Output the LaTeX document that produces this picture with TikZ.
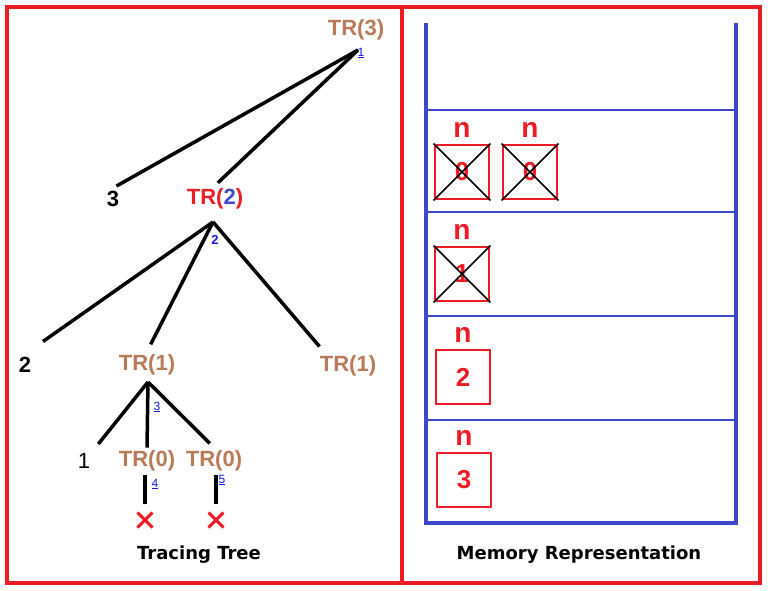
\documentclass[tikz,border=0pt]{standalone}
\usepackage{fontspec}
\setmainfont{Liberation Sans}
\newfontfamily\capfont{DejaVu Sans}
\usetikzlibrary{shapes.misc,positioning}
\definecolor{trbrown}{RGB}{185,122,87}
\definecolor{trred}{RGB}{237,28,36}
\definecolor{stackblue}{RGB}{63,72,204}
\definecolor{numblue}{RGB}{20,20,235}
\tikzstyle{call} = [font=\fontsize{22}{26}\selectfont\bfseries, text=trbrown, inner sep=3pt]
\tikzstyle{leaf} = [call, text=black]
\tikzstyle{order} = [font=\fontsize{12}{14}\selectfont, text=numblue, inner sep=1pt]
\tikzstyle{line} = [draw, line width=3.5pt]
\tikzstyle{xmark} = [cross out, draw=trred, line width=3pt, minimum size=12pt, inner sep=0pt]
\tikzstyle{cell} = [rectangle, draw=trred, line width=2.8pt, minimum size=54pt, inner sep=0pt,
    text=trred, font=\fontsize{26}{30}\selectfont\bfseries]
\tikzstyle{var} = [text=trred, font=\fontsize{28}{30}\selectfont\bfseries, inner sep=1pt]
\tikzstyle{wall} = [draw=stackblue, line width=4pt]
\tikzstyle{shelf} = [draw=stackblue, line width=2.5pt]
\tikzstyle{crossed} = [draw, line width=1.5pt]
\tikzstyle{caption} = [font=\capfont\fontsize{18}{22}\selectfont\bfseries]

\begin{document}
\begin{tikzpicture}[x=1pt, y=-1pt]
    \useasboundingbox (0,0) rectangle (768,591);
    % Frame
    \draw[trred, line width=4pt] (7,7) rectangle (760,583);
    \draw[trred, line width=4pt] (402,7) -- (402,583);
    % Place nodes
    \node [call] (TR3) at (356,30) {TR(3)};
    \coordinate (j3) at (358,50);
    \node [order] (o1) at (361,53) {\underline{1}};
    \node [leaf] (Leaf3) at (113,199) {3};
    \node [call] (TR2) at (215,199) {{\color{trred}TR(}{\color{stackblue}2}{\color{trred})}};
    \coordinate (j2) at (213,222);
    \node [order, font=\fontsize{13}{14}\selectfont\bfseries, text=numblue] (o2) at (215,240) {2};
    \node [leaf] (Leaf2) at (25,365) {2};
    \node [call] (TR1a) at (147,365) {TR(1)};
    \node [call] (TR1b) at (348,366) {TR(1)};
    \coordinate (j1) at (148,382);
    \node [order] (o3) at (157,407) {\underline{3}};
    \node [leaf, font=\fontsize{22}{26}\selectfont] (Leaf1) at (84,461) {1};
    \node [call] (TR0a) at (147,461) {TR(0)};
    \node [call] (TR0b) at (214,461) {TR(0)};
    \node [order] (o4) at (155,484) {\underline{4}};
    \node [order] (o5) at (222,480) {\underline{5}};
    \node [xmark] (Xa) at (145,520) {};
    \node [xmark] (Xb) at (216,520) {};
    \node [caption] (treeTitle) at (199,555) {Tracing Tree};
    % Draw edges
    \path [line, shorten >=4pt] (j3) -- (Leaf3.north);
    \path [line, shorten >=4pt] (j3) -- (TR2.north);
    \path [line, shorten >=22pt] (j2) -- (Leaf2.north);
    \path [line, shorten >=8pt] (j2) -- (TR1a.north);
    \path [line, shorten >=8pt] (j2) -- (TR1b.150);
    \path [line, shorten >=8pt] (j1) -- (Leaf1.north east);
    \path [line] (j1) -- (TR0a.north);
    \path [line, shorten >=6pt] (j1) -- (TR0b.north);
    \path [line, shorten <=1pt, shorten >=9pt] (TR0a.south -| Xa) -- (Xa.north);
    \path [line, shorten <=1pt, shorten >=9pt] (TR0b.south -| Xb) -- (Xb.north);
    % Stack
    \draw[wall] (426,23) -- (426,523) -- (736,523) -- (736,23);
    \foreach \y in {110,212,316,420}
        \draw[shelf] (426,\y) -- (736,\y);
    % Stack cells
    \node [cell] (c0a) at (462,172) {0};
    \node [cell] (c0b) at (530,172) {0};
    \node [cell] (c1) at (462,274) {1};
    \node [cell] (c2) at (463,377) {2};
    \node [cell] (c3) at (464,480) {3};
    \foreach \c in {c0a,c0b,c1,c2,c3}
        \node [var, above=5pt of \c] (n\c) {n};
    \foreach \c in {c0a,c0b,c1} {
        \path [crossed] (\c.north west) -- (\c.south east);
        \path [crossed] (\c.south west) -- (\c.north east);
    }
    \node [caption] (memTitle) at (579,555) {Memory Representation};
\end{tikzpicture}
\end{document}
